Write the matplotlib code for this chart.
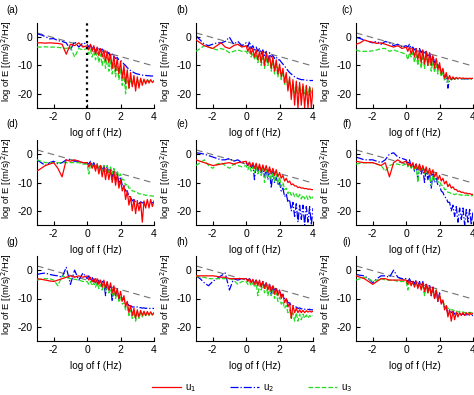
import matplotlib
matplotlib.use("Agg")
import matplotlib.pyplot as plt

plt.rcParams['font.family'] = ['Liberation Sans', 'DejaVu Sans']

# log10 frequency grid shared by every spectrum
logf = [-3.0, -2.75, -2.5, -2.25, -2.0, -1.75, -1.5, -1.25, -1.0, -0.75, -0.5, -0.25,
        0.0, 0.1, 0.2, 0.3, 0.4, 0.5, 0.6, 0.7, 0.8, 0.9,
        1.0, 1.1, 1.2, 1.3, 1.4, 1.5, 1.6, 1.7, 1.8, 1.9,
        2.0, 2.1, 2.2, 2.3, 2.4, 2.5, 2.6, 2.7, 2.8, 2.9,
        3.0, 3.1, 3.2, 3.3, 3.4, 3.5, 3.6, 3.7, 3.8, 3.9,
        4.0]

# -5/3 reference line end points
ref_x = [-3, 4]
ref_y = [1.5, -10.2]

# panel (a)
a_u1 = [-2.0, -2.0, -2.1, -2.0, -2.1, -2.2, -2.5, -6.0, -2.5, -3.0, -2.0, -3.5,
        -3.0, -4.5, -2.5, -5.0, -3.0, -6.0, -3.5, -6.5, -4.0, -7.0,
        -4.5, -8.5, -5.0, -9.0, -6.0, -11.0, -6.5, -12.0, -7.5, -13.0,
        -8.5, -14.5, -10.0, -16.5, -11.5, -18.0, -12.5, -17.5, -13.5, -19.0,
        -14.0, -18.0, -14.5, -17.0, -14.8, -16.5, -15.0, -16.2, -15.0, -16.0,
        -15.5]
a_u2 = [1.2, 0.8, 0.2, -0.6, -0.5, -1.2, -1.5, -2.0, -4.5, -1.5, -3.5, -2.0,
        -2.5, -3.5, -2.8, -4.0, -3.2, -5.5, -3.6, -4.0, -4.8, -4.2,
        -5.0, -4.8, -6.0, -5.4, -7.0, -6.0, -6.8, -7.5, -7.2, -8.0,
        -8.2, -8.8, -9.5, -10.0, -10.8, -11.2, -11.8, -12.2, -12.5, -12.8,
        -13.0, -13.1, -13.3, -13.4, -13.5, -13.5, -13.6, -13.6, -13.7, -13.7,
        -13.8]
a_u3 = [-3.5, -3.5, -3.4, -3.5, -3.5, -3.6, -3.8, -4.0, -3.5, -7.0, -4.0, -4.5,
        -4.0, -6.0, -4.5, -7.0, -5.0, -8.0, -5.5, -9.0, -6.0, -10.0,
        -6.5, -11.0, -7.0, -12.0, -8.0, -13.0, -9.0, -14.0, -10.0, -15.0,
        -11.0, -17.0, -12.5, -20.0, -13.5, -18.0, -14.5, -17.0, -15.0, -17.5,
        -15.0, -16.5, -15.0, -16.0, -15.2, -15.8, -15.0, -15.6, -15.2, -15.5,
        -15.3]

# panel (b)
b_u1 = [-1.0, -2.0, -3.0, -3.5, -4.0, -3.0, -2.0, -3.5, -4.0, -3.0, -2.5, -3.5,
        -3.0, -5.0, -3.5, -6.0, -4.0, -7.0, -4.5, -8.0, -5.0, -9.0,
        -5.0, -10.0, -5.5, -9.0, -6.5, -11.0, -7.0, -12.0, -8.0, -13.0,
        -9.5, -14.0, -11.0, -16.0, -12.5, -19.0, -14.0, -22.0, -15.0, -24.0,
        -15.5, -25.0, -16.0, -24.0, -16.5, -25.0, -17.0, -25.0, -17.5, -25.0,
        -18.0]
b_u2 = [0.5, -1.0, -2.5, -3.0, -2.5, -2.0, -2.0, -1.5, 0.0, -2.5, -1.5, -3.0,
        -2.0, -3.5, -1.5, -4.0, -3.0, -4.5, -3.5, -5.0, -4.0, -6.0,
        -4.5, -6.5, -5.0, -9.0, -5.5, -7.0, -6.5, -7.5, -7.0, -8.0,
        -8.0, -8.8, -9.5, -10.2, -11.0, -11.8, -12.5, -13.0, -13.5, -14.0,
        -14.3, -14.6, -14.8, -15.0, -15.0, -15.1, -15.2, -15.2, -15.3, -15.3,
        -15.3]
b_u3 = [-5.0, -4.0, -3.0, -3.5, -4.0, -4.5, -4.0, -4.5, -5.5, -5.0, -4.5, -5.0,
        -5.0, -6.0, -5.0, -7.0, -5.5, -8.0, -6.0, -9.0, -6.0, -10.0,
        -6.0, -11.0, -7.0, -10.0, -7.5, -12.0, -8.5, -13.0, -9.5, -14.0,
        -10.5, -15.0, -12.0, -17.0, -13.5, -18.0, -15.0, -19.0, -16.0, -20.0,
        -16.5, -20.0, -17.0, -20.5, -17.0, -20.0, -17.5, -20.5, -17.5, -20.0,
        -18.0]

# panel (c)
c_u1 = [-2.5, -2.0, -1.0, -1.5, -1.8, -2.2, -2.0, -2.5, -3.0, -3.5, -3.0, -4.0,
        -3.5, -5.0, -3.5, -6.0, -4.0, -7.0, -4.0, -8.0, -4.5, -9.0,
        -4.5, -9.5, -5.0, -10.0, -5.5, -10.0, -6.5, -11.0, -7.5, -11.5,
        -9.0, -13.0, -11.0, -14.5, -12.5, -15.0, -13.5, -15.0, -14.0, -14.8,
        -14.2, -14.7, -14.3, -14.6, -14.4, -14.6, -14.5, -14.6, -14.5, -14.6,
        -14.5]
c_u2 = [0.0, -0.5, -1.0, -1.5, -2.0, -1.5, -2.5, -1.5, -2.0, -3.0, -2.5, -3.5,
        -3.0, -3.5, -2.5, -4.0, -3.5, -4.5, -4.0, -5.0, -4.0, -5.5,
        -4.5, -6.0, -5.0, -7.0, -5.5, -8.0, -6.5, -9.0, -8.0, -10.0,
        -10.5, -12.0, -13.0, -14.0, -13.5, -18.0, -14.5, -15.0, -14.5, -14.8,
        -14.5, -14.6, -14.6, -14.7, -14.7, -14.7, -14.7, -14.7, -14.7, -14.7,
        -14.7]
c_u3 = [-4.5, -5.0, -5.0, -5.0, -4.8, -4.5, -4.0, -4.0, -5.0, -4.5, -5.0, -5.5,
        -6.0, -8.0, -5.5, -7.0, -5.5, -9.0, -6.0, -10.0, -6.0, -11.0,
        -6.0, -11.0, -6.5, -10.0, -7.5, -12.0, -8.5, -12.5, -9.5, -13.0,
        -11.0, -14.0, -12.5, -15.5, -14.0, -16.0, -14.5, -15.0, -14.5, -14.8,
        -14.5, -14.7, -14.6, -14.7, -14.6, -14.7, -14.7, -14.7, -14.7, -14.7,
        -14.7]

# panel (d)
d_u1 = [-6.0, -5.0, -4.0, -3.5, -3.0, -5.0, -8.0, -2.0, -2.5, -2.0, -2.5, -3.0,
        -3.0, -4.5, -3.0, -5.0, -3.5, -6.0, -3.5, -7.0, -4.0, -8.0,
        -4.5, -9.0, -5.0, -9.0, -5.5, -10.0, -6.0, -11.0, -7.0, -12.0,
        -9.0, -13.0, -11.0, -16.0, -13.0, -18.0, -15.0, -20.0, -16.0, -21.0,
        -16.5, -20.0, -17.0, -24.0, -16.5, -19.0, -16.0, -19.0, -16.0, -18.5,
        -16.5]
d_u2 = [-2.0, -3.0, -4.0, -3.0, -2.5, -3.5, -3.0, -2.0, -2.0, -2.5, -2.5, -3.0,
        -3.0, -3.5, -2.5, -4.0, -3.0, -4.5, -3.5, -5.0, -4.0, -5.5,
        -4.0, -6.0, -4.5, -6.5, -5.0, -8.0, -6.0, -9.0, -7.0, -10.0,
        -8.0, -11.0, -11.0, -13.0, -13.0, -15.0, -15.0, -16.5, -16.0, -17.0,
        -16.5, -17.5, -16.8, -17.2, -17.0, -17.2, -17.0, -17.1, -17.0, -17.1,
        -17.0]
d_u3 = [-2.0, -2.5, -3.0, -3.0, -3.0, -3.0, -3.0, -3.0, -3.0, -3.0, -3.0, -3.5,
        -3.5, -7.0, -3.5, -4.5, -3.5, -5.0, -3.5, -5.5, -4.0, -6.0,
        -4.0, -6.0, -4.0, -6.5, -4.5, -7.0, -5.0, -7.5, -6.0, -8.0,
        -7.0, -9.0, -9.0, -11.0, -10.5, -12.0, -12.0, -13.0, -13.0, -13.5,
        -13.5, -14.0, -14.0, -14.3, -14.3, -14.5, -14.5, -14.7, -14.7, -14.8,
        -14.8]

# panel (e)
e_u1 = [-2.0, -2.5, -3.0, -3.5, -4.0, -3.8, -3.5, -3.2, -3.0, -3.5, -3.0, -2.8,
        -2.5, -4.0, -2.8, -4.5, -3.0, -5.0, -3.2, -5.5, -3.5, -6.0,
        -3.8, -6.0, -4.0, -6.5, -4.5, -7.0, -5.0, -7.5, -5.5, -8.0,
        -6.5, -8.5, -7.5, -9.5, -8.5, -10.0, -9.5, -10.8, -10.5, -11.2,
        -11.2, -11.8, -11.6, -12.0, -11.9, -12.2, -12.1, -12.4, -12.3, -12.5,
        -12.5]
e_u2 = [0.5, 0.3, 0.0, -0.5, -1.0, -1.5, -2.0, -2.0, -1.5, -2.5, -2.0, -3.0,
        -3.0, -4.0, -3.0, -5.0, -3.5, -9.0, -4.0, -6.0, -4.5, -7.0,
        -4.5, -8.0, -5.0, -9.0, -5.5, -12.0, -6.5, -10.0, -8.0, -11.0,
        -10.0, -13.0, -12.0, -15.0, -14.0, -17.0, -16.0, -20.0, -17.0, -22.0,
        -17.5, -24.0, -18.0, -23.0, -18.0, -25.0, -18.5, -24.0, -18.5, -25.0,
        -19.0]
e_u3 = [-4.0, -3.0, -2.0, -4.0, -5.0, -3.5, -3.0, -4.0, -5.0, -3.5, -4.0, -4.5,
        -4.0, -5.5, -4.0, -6.0, -4.5, -6.5, -4.5, -7.0, -5.0, -7.5,
        -5.0, -10.0, -5.5, -8.0, -6.0, -9.0, -6.5, -9.5, -7.0, -10.5,
        -8.0, -11.5, -10.0, -12.5, -12.0, -14.0, -13.0, -14.5, -13.5, -15.0,
        -14.0, -15.5, -14.2, -15.8, -14.5, -15.8, -14.6, -16.0, -14.8, -16.0,
        -15.0]

# panel (f)
f_u1 = [-2.5, -2.8, -3.0, -3.0, -3.0, -3.5, -4.0, -3.0, -8.0, -3.0, -2.0, -3.0,
        -2.5, -4.0, -3.0, -4.5, -3.0, -5.0, -3.5, -5.5, -3.5, -6.0,
        -4.0, -6.5, -4.5, -7.0, -5.0, -7.5, -5.5, -8.0, -6.5, -9.0,
        -7.5, -9.5, -8.5, -10.5, -9.5, -11.5, -10.5, -12.0, -11.5, -12.5,
        -12.5, -13.2, -13.0, -13.5, -13.4, -13.8, -13.7, -14.0, -13.9, -14.2,
        -14.2]
f_u2 = [-1.0, -1.5, -2.0, -2.0, -2.0, -2.5, -3.0, -2.0, 0.0, 0.5, -1.0, -1.5,
        -2.0, -3.5, -2.0, -4.5, -3.0, -6.0, -3.5, -9.0, -4.0, -7.0,
        -5.0, -10.0, -5.5, -9.0, -6.5, -12.0, -7.0, -10.0, -8.5, -11.0,
        -11.0, -13.0, -13.5, -15.0, -15.5, -17.0, -17.0, -20.0, -18.0, -22.0,
        -18.5, -24.0, -19.0, -23.0, -19.0, -25.0, -19.5, -24.0, -19.5, -25.0,
        -20.0]
f_u3 = [-3.5, -3.2, -3.0, -3.0, -3.0, -3.5, -4.0, -6.0, -4.0, -3.5, -3.5, -4.0,
        -3.5, -4.5, -3.5, -5.0, -4.0, -5.5, -4.0, -10.0, -4.5, -6.0,
        -5.0, -7.0, -5.5, -7.5, -6.5, -11.0, -7.5, -9.0, -8.5, -10.0,
        -9.5, -11.0, -11.0, -12.5, -12.5, -13.5, -13.5, -14.0, -14.0, -14.3,
        -14.0, -14.5, -14.2, -14.5, -14.3, -14.6, -14.4, -14.6, -14.5, -14.7,
        -14.6]

# panel (g)
g_u1 = [-3.0, -3.2, -3.5, -3.8, -4.0, -3.5, -3.0, -2.5, -2.0, -2.5, -2.0, -2.5,
        -2.0, -3.5, -2.5, -4.0, -3.0, -4.5, -3.0, -5.0, -3.5, -6.0,
        -3.5, -6.5, -4.0, -7.0, -4.5, -8.0, -5.5, -9.0, -6.5, -10.0,
        -7.5, -11.0, -9.0, -13.0, -11.0, -15.0, -12.5, -16.0, -13.5, -17.0,
        -14.0, -16.5, -14.2, -16.0, -14.5, -16.0, -14.6, -15.8, -14.7, -15.8,
        -15.0]
g_u2 = [-1.5, -1.2, -1.0, -1.5, -1.8, -2.0, -2.5, 1.0, -5.0, 0.0, -3.5, -1.0,
        -3.0, -2.0, -3.5, -2.5, -4.0, -3.0, -5.0, -3.5, -6.0, -4.0,
        -4.0, -9.0, -4.5, -7.0, -5.5, -11.0, -6.0, -9.0, -7.0, -10.0,
        -8.5, -10.5, -10.0, -11.5, -11.5, -12.5, -12.5, -13.0, -13.0, -13.2,
        -13.0, -13.3, -13.2, -13.4, -13.3, -13.5, -13.4, -13.5, -13.5, -13.5,
        -13.5]
g_u3 = [-3.5, -3.2, -3.0, -3.0, -3.5, -5.5, -2.0, -2.5, -3.0, -3.2, -3.5, -4.0,
        -4.0, -5.0, -4.0, -5.5, -4.5, -6.0, -4.5, -6.5, -5.0, -7.0,
        -5.0, -7.5, -5.5, -8.0, -6.5, -9.0, -7.0, -10.0, -8.0, -11.0,
        -9.5, -12.0, -11.5, -14.0, -13.0, -16.0, -14.0, -17.0, -14.5, -18.0,
        -14.8, -17.0, -15.0, -16.5, -15.0, -16.0, -15.0, -16.0, -15.0, -15.8,
        -15.2]

# panel (h)
h_u1 = [-2.0, -2.0, -2.0, -2.0, -2.0, -2.2, -2.5, -2.5, -3.0, -3.0, -3.0, -3.0,
        -3.0, -4.0, -3.0, -4.5, -3.2, -5.0, -3.5, -5.5, -3.5, -6.0,
        -4.0, -6.5, -4.5, -7.0, -5.0, -7.5, -5.5, -8.5, -6.5, -9.0,
        -7.0, -10.0, -8.5, -11.5, -10.0, -13.0, -11.5, -17.0, -12.5, -15.0,
        -13.5, -15.0, -14.0, -15.0, -14.2, -15.0, -14.3, -14.8, -14.4, -14.8,
        -14.5]
h_u2 = [-2.0, -3.0, -4.5, -5.5, -4.0, -3.0, -2.0, -1.0, -7.0, -3.0, -3.5, -3.0,
        -3.0, -3.5, -3.0, -4.0, -3.5, -4.5, -3.5, -5.0, -4.0, -5.5,
        -4.0, -6.0, -4.5, -6.5, -5.0, -9.0, -5.5, -7.0, -6.5, -8.0,
        -7.0, -9.0, -8.5, -10.0, -10.0, -11.5, -11.5, -12.5, -12.5, -13.0,
        -13.0, -13.5, -13.3, -13.7, -13.5, -13.8, -13.7, -13.9, -13.8, -14.0,
        -14.0]
h_u3 = [-2.0, -2.5, -2.5, -3.0, -3.0, -3.0, -3.0, -3.0, -3.0, -3.5, -5.0, -4.0,
        -4.0, -5.0, -4.0, -5.5, -4.5, -6.0, -4.5, -9.0, -5.0, -7.0,
        -5.0, -8.0, -5.5, -9.0, -6.5, -9.0, -7.0, -10.0, -8.0, -11.0,
        -9.5, -12.0, -11.0, -13.5, -12.5, -15.0, -14.0, -17.0, -15.0, -18.0,
        -15.0, -18.0, -15.5, -17.5, -15.5, -17.0, -15.8, -17.0, -16.0, -16.5,
        -16.0]

# panel (i)
i_u1 = [-2.0, -2.5, -3.0, -4.0, -5.0, -4.0, -3.0, -3.0, -3.5, -3.5, -3.5, -3.5,
        -3.5, -5.0, -3.5, -5.5, -4.0, -6.0, -4.0, -6.5, -4.5, -7.0,
        -4.5, -7.5, -5.0, -8.0, -5.5, -9.0, -6.0, -10.0, -7.0, -11.0,
        -8.5, -12.0, -10.5, -14.0, -12.5, -16.5, -14.0, -18.0, -14.5, -17.5,
        -14.8, -16.5, -15.0, -16.0, -15.0, -16.0, -15.0, -15.8, -15.0, -15.7,
        -15.2]
i_u2 = [-1.5, -1.8, -2.0, -3.0, -4.5, -3.0, -2.0, -2.0, -2.5, 0.0, -2.5, -3.0,
        -3.0, -4.0, -3.0, -4.5, -3.5, -5.0, -3.5, -5.5, -4.0, -6.0,
        -4.0, -8.0, -4.5, -7.0, -5.0, -9.0, -6.0, -10.0, -7.0, -11.0,
        -8.0, -11.5, -11.0, -13.0, -13.0, -15.5, -14.0, -15.0, -14.5, -15.5,
        -15.0, -15.5, -15.3, -15.7, -15.5, -15.8, -15.7, -16.0, -15.8, -16.0,
        -16.0]
i_u3 = [-3.5, -3.0, -2.5, -3.0, -4.0, -3.5, -3.0, -3.5, -3.5, -3.5, -4.0, -4.0,
        -4.0, -7.0, -4.0, -5.0, -4.5, -5.5, -4.5, -6.0, -5.0, -6.5,
        -5.0, -9.0, -5.5, -8.0, -6.0, -8.5, -6.5, -9.0, -7.0, -10.0,
        -9.0, -11.0, -11.0, -12.5, -12.5, -13.5, -13.5, -14.0, -14.0, -14.5,
        -14.3, -14.8, -14.5, -15.0, -14.7, -15.0, -14.8, -15.0, -14.9, -15.0,
        -15.0]

panel_names = ["(a)", "(b)", "(c)", "(d)", "(e)", "(f)", "(g)", "(h)", "(i)"]
panels = [(a_u1, a_u2, a_u3), (b_u1, b_u2, b_u3), (c_u1, c_u2, c_u3),
          (d_u1, d_u2, d_u3), (e_u1, e_u2, e_u3), (f_u1, f_u2, f_u3),
          (g_u1, g_u2, g_u3), (h_u1, h_u2, h_u3), (i_u1, i_u2, i_u3)]

W, H = 474, 395
fig = plt.figure(figsize=(W / 100, H / 100), dpi=100)

col_left = [37, 196, 356]
row_top = [23, 140, 256]
ax_w, ax_h = 117, 85
label_x = [12, 182, 347]
label_y = [10, 124, 242]

lines = []
for k, (u1, u2, u3) in enumerate(panels):
    r, c = divmod(k, 3)
    ax = fig.add_axes([col_left[c] / W, 1 - (row_top[r] + ax_h) / H, ax_w / W, ax_h / H])
    ax.plot(ref_x, ref_y, color='0.45', ls=(0, (6, 4)), lw=0.8, zorder=1)
    l2, = ax.plot(logf, u2, color='#0000ff', ls='-.', lw=0.9, zorder=2)
    l3, = ax.plot(logf, u3, color='#22dd22', ls='--', lw=0.9, zorder=3)
    l1, = ax.plot(logf, u1, color='#ff0000', ls='-', lw=0.9, zorder=4)
    if k == 0:
        ax.axvline(0, color='k', ls=':', lw=1.6, zorder=5)
        lines = [l1, l2, l3]
    ax.set_xlim(-3, 4)
    ax.set_ylim(-25, 5)
    ax.set_xticks([-2, 0, 2, 4])
    ax.set_yticks([0, -10, -20])
    ax.set_xticklabels(["-2", "0", "2", "4"])
    ax.set_yticklabels(["0", "-10", "-20"])
    for side in ['top', 'right']:
        ax.spines[side].set_visible(False)
    ax.tick_params(direction='in', length=3, labelsize=7.5, pad=3)
    ax.set_xlabel("log of f (Hz)", fontsize=7.2, labelpad=4)
    ax.set_ylabel("log of E [(m/s)$^2$/Hz]", fontsize=6.8)
    ax.yaxis.set_label_coords(-0.2, 0.55)
    fig.text(label_x[c] / W, 1 - label_y[r] / H, panel_names[k],
             fontsize=7, ha='center', va='center')

fig.legend(lines, ["u$_1$", "u$_2$", "u$_3$"], loc='center',
           bbox_to_anchor=(252 / W, 1 - 388 / H), ncol=3, frameon=False,
           fontsize=7, handlelength=3.0, columnspacing=3.5, handletextpad=0.4)

fig.savefig("out.png", dpi=100)
